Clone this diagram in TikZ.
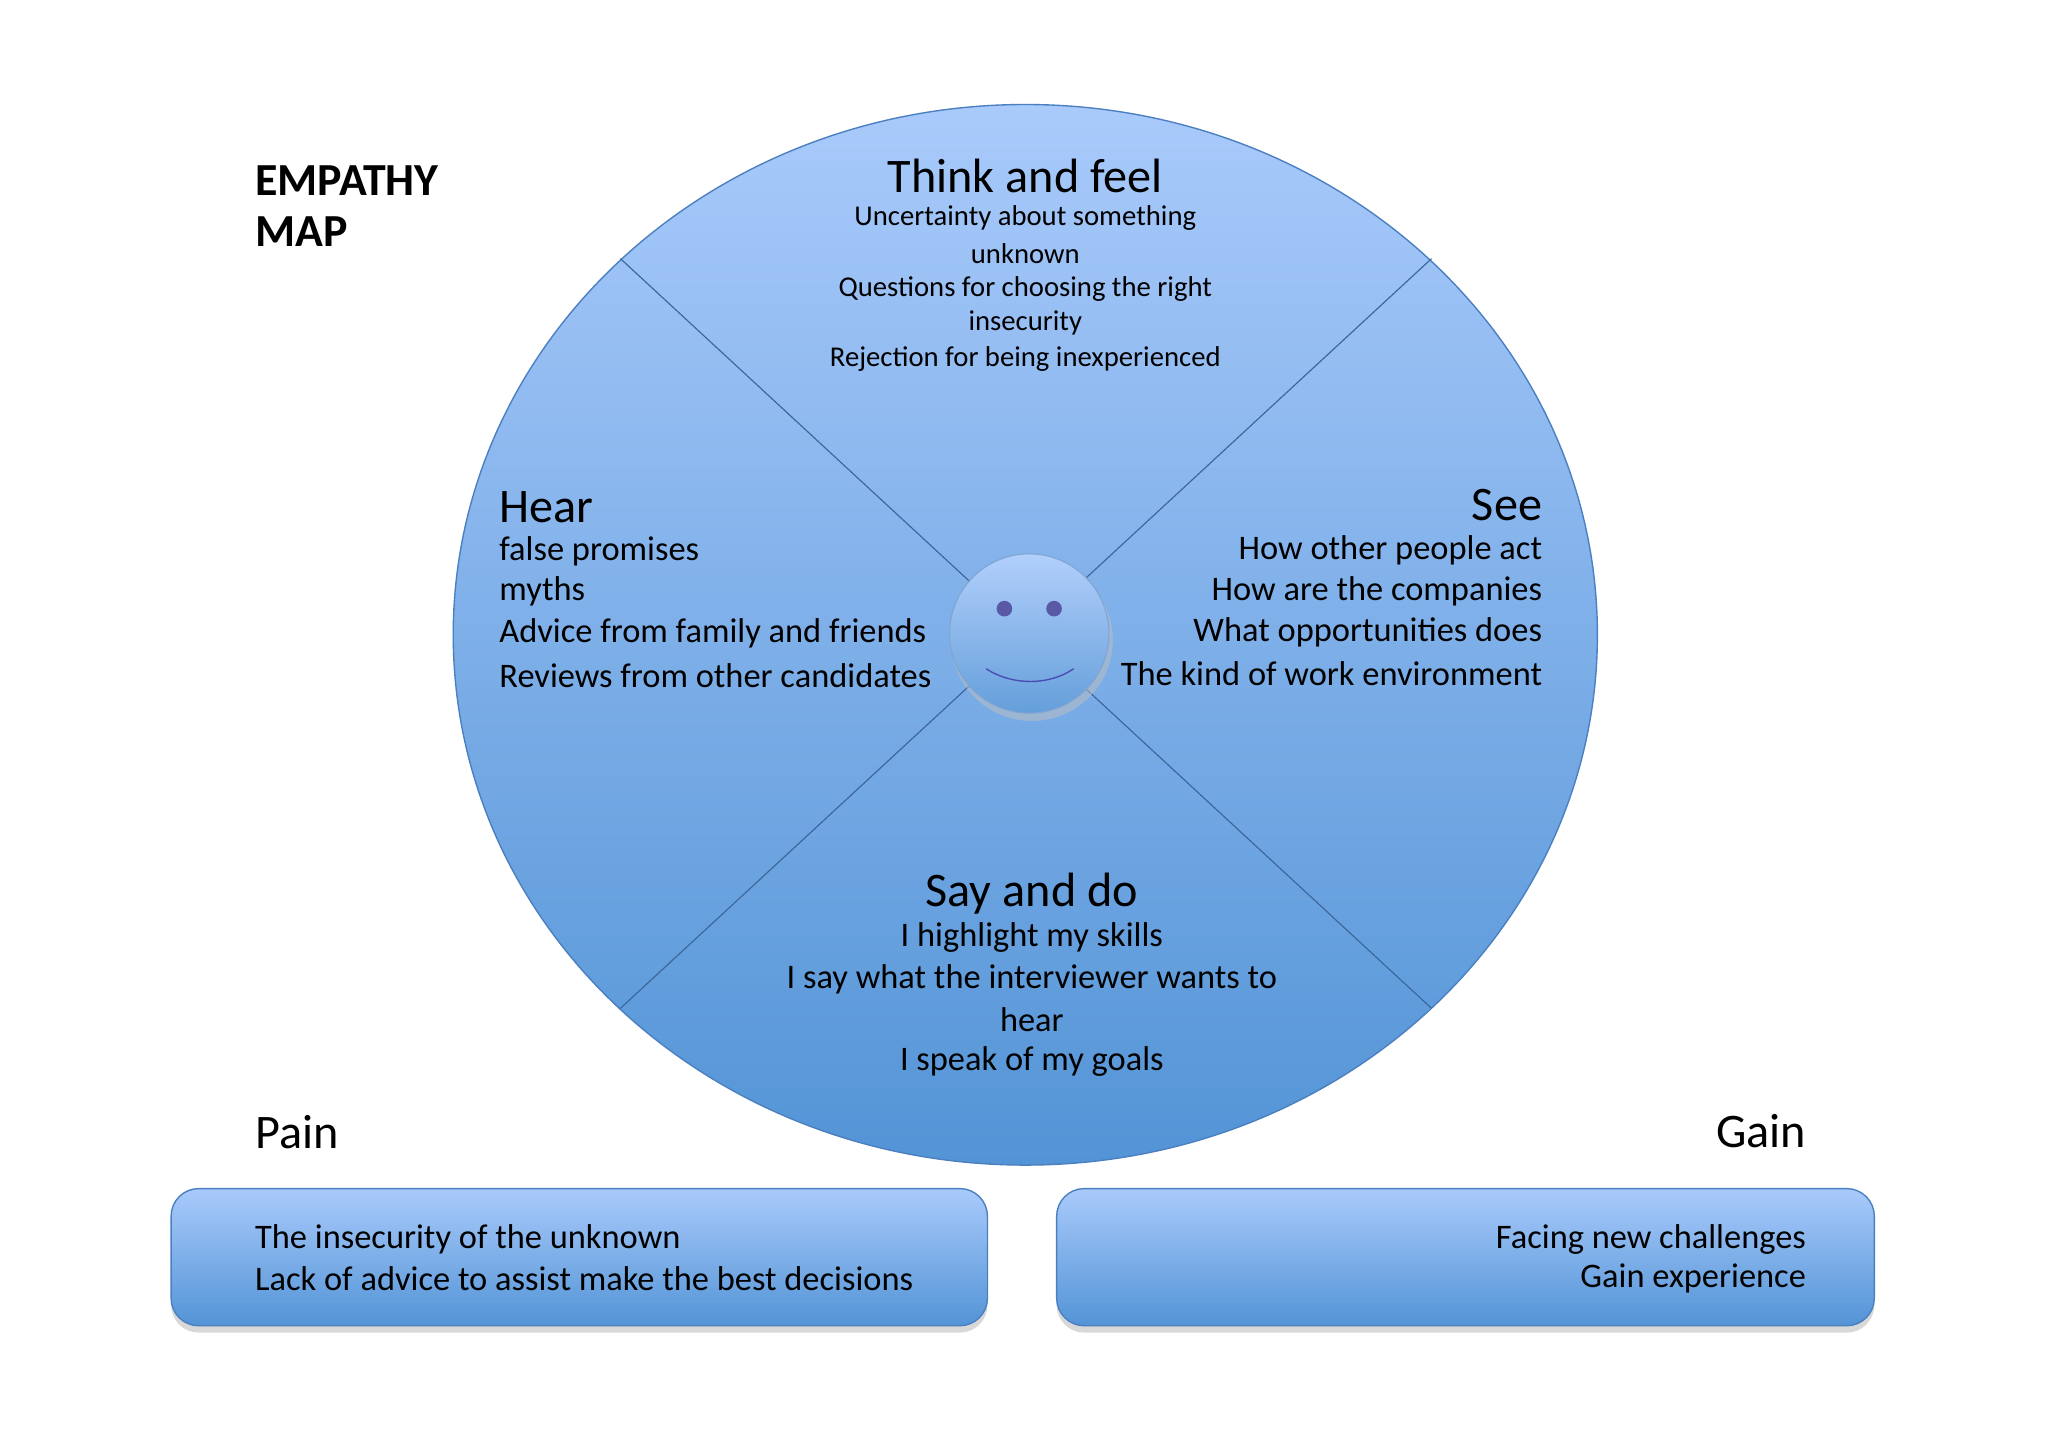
\documentclass[tikz,border=0pt]{standalone}
\usepackage{fontspec}
\setmainfont{Carlito}
\usetikzlibrary{shadows}
\definecolor{topb}{HTML}{A9CAFB}
\definecolor{botb}{HTML}{5394D6}
\definecolor{edgeb}{HTML}{4A7FC0}
\tikzset{
  x=0.02cm,y=-0.02cm,
  body/.style={font=\fontsize{15}{18}\selectfont,inner sep=0pt},
  small/.style={font=\fontsize{12.5}{15}\selectfont,inner sep=0pt},
  head/.style={font=\fontsize{21}{24}\selectfont,inner sep=0pt},
  panel/.style={draw=edgeb,line width=0.6pt,top color=topb,bottom color=botb},
  div/.style={draw=edgeb!80!black,line width=0.5pt}
}
\begin{document}
\begin{tikzpicture}
\useasboundingbox (0,0) rectangle (1568,1107);
\fill[white] (0,0) rectangle (1568,1107);
% main ellipse
\path[panel] (785,486) ellipse [x radius=438, y radius=406];
\coordinate (a1) at (475,198); \coordinate (a2) at (1096,772);
\coordinate (b1) at (1096,198); \coordinate (b2) at (475,772);
\draw[div] (a1) -- (a2);
\draw[div] (b1) -- (b2);
% smiley
\fill[black!25,opacity=0.5] (790,490) circle (62);
\path[draw=edgeb!70,line width=0.5pt,top color=topb!90!white,bottom color=botb!90] (788,485) circle (61);
\fill[gray!70!blue] (769,466) circle (6);
\fill[gray!70!blue] (807,466) circle (6);
\draw[gray!60!blue,line width=0.6pt] (755,512) .. controls (775,525) and (803,525) .. (822,512);
% boxes
\path[panel,rounded corners=12,drop shadow={opacity=0.3,shadow xshift=0pt,shadow yshift=-3pt}] (131,910) rectangle (756,1015);
\path[panel,rounded corners=12,drop shadow={opacity=0.3,shadow xshift=0pt,shadow yshift=-3pt}] (809,910) rectangle (1435,1015);
% title
\node[head,font=\fontsize{20}{24}\selectfont\bfseries,anchor=west] (t1) at (195,138) {EMPATHY};
\node[head,font=\fontsize{20}{24}\selectfont\bfseries,anchor=west] (t2) at (195,177) {MAP};
% think and feel
\node[head] (tf) at (785,135) {Think and feel};
\node[small] (tf1) at (785,167) {Uncertainty about something};
\node[small] (tf2) at (785,194) {unknown};
\node[small] (tf3) at (785,221) {Questions for choosing the right};
\node[small] (tf4) at (785,247) {insecurity};
\node[small] (tf5) at (785,275) {Rejection for being inexperienced};
% hear
\node[head,anchor=west] (h) at (382,388) {Hear};
\node[body,anchor=west] (h1) at (382,422) {false promises};
\node[body,anchor=west] (h2) at (382,453) {myths};
\node[body,anchor=west] (h3) at (382,485) {Advice from family and friends};
\node[body,anchor=west] (h4) at (382,517) {Reviews from other candidates};
% see
\node[head,anchor=east] (s) at (1181,387) {See};
\node[body,anchor=east] (s1) at (1181,421) {How other people act};
\node[body,anchor=east] (s2) at (1181,453) {How are the companies};
\node[body,anchor=east] (s3) at (1181,484) {What opportunities does};
\node[body,anchor=east] (s4) at (1181,516) {The kind of work environment};
% say and do
\node[head] (sd) at (790,684) {Say and do};
\node[body] (sd1) at (790,718) {I highlight my skills};
\node[body] (sd2) at (790,750) {I say what the interviewer wants to};
\node[body] (sd3) at (790,781) {hear};
\node[body] (sd4) at (790,813) {I speak of my goals};
% pain / gain
\node[head,anchor=west] (p) at (195,867) {Pain};
\node[head,anchor=east] (g) at (1383,866) {Gain};
\node[body,anchor=west] (p1) at (195,949) {The insecurity of the unknown};
\node[body,anchor=west] (p2) at (195,979) {Lack of advice to assist make the best decisions};
\node[body,anchor=east] (g1) at (1383,949) {Facing new challenges};
\node[body,anchor=east] (g2) at (1383,979) {Gain experience};
\end{tikzpicture}
\end{document}
